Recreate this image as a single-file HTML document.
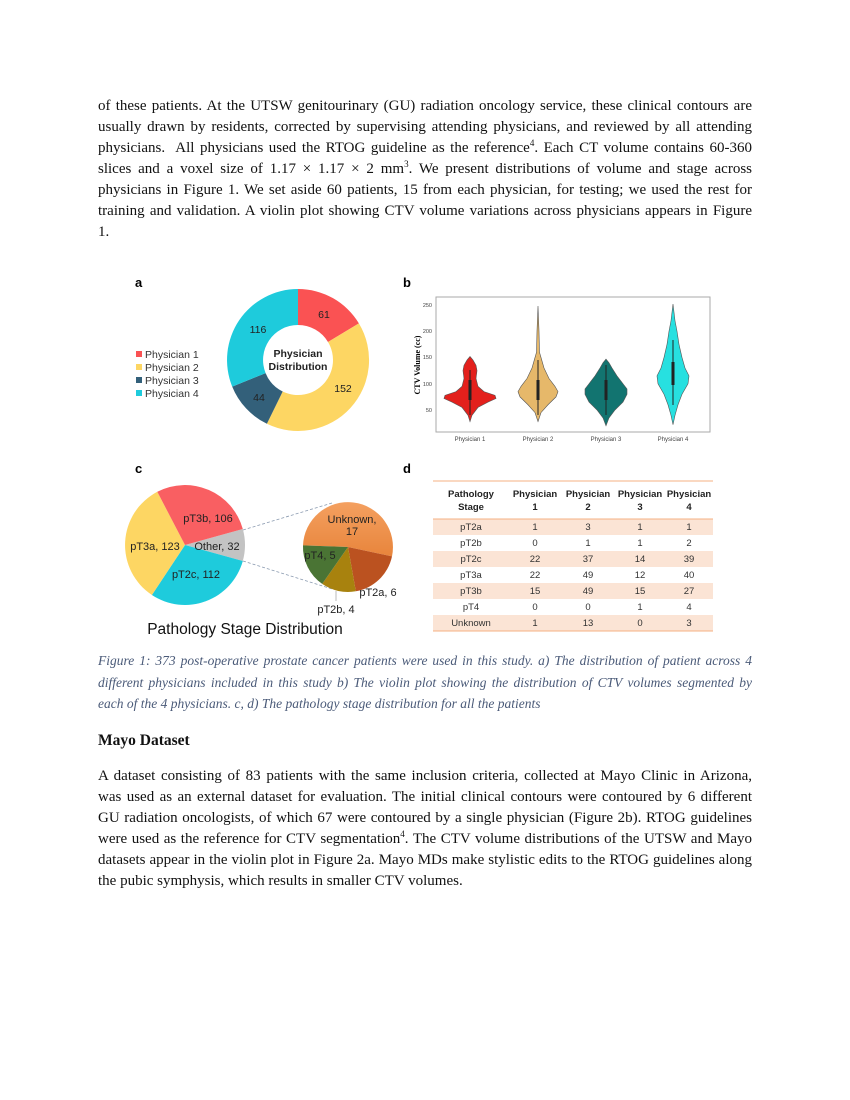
<!DOCTYPE html>
<html><head><meta charset="utf-8"><style>
body{margin:0;background:#fff;}
#p{position:relative;width:850px;height:1100px;overflow:hidden;font-family:"Liberation Serif",serif;color:#111;}
.l{position:absolute;left:98px;width:654px;font-size:15px;line-height:20px;height:20px;text-align:justify;text-align-last:justify;}
.n{text-align-last:left;}
.c{position:absolute;left:98px;width:654px;font-size:13.5px;line-height:18px;font-style:italic;color:#4a5a78;text-align:justify;text-align-last:justify;}
sup{font-size:9px;line-height:0;vertical-align:0;position:relative;top:-6px;}
svg text{font-family:"Liberation Sans",sans-serif;}
</style></head><body><div id="p">
<div class="l" style="top:96px">of these patients. At the UTSW genitourinary (GU) radiation oncology service, these clinical contours are</div>
<div class="l" style="top:117px">usually drawn by residents, corrected by supervising attending physicians, and reviewed by all attending</div>
<div class="l" style="top:138px">physicians.&nbsp; All physicians used the RTOG guideline as the reference<sup>4</sup>. Each CT volume contains 60-360</div>
<div class="l" style="top:159px">slices and a voxel size of 1.17 × 1.17 × 2 mm<sup>3</sup>. We present distributions of volume and stage across</div>
<div class="l" style="top:180px">physicians in Figure 1. We set aside 60 patients, 15 from each physician, for testing; we used the rest for</div>
<div class="l" style="top:201px">training and validation. A violin plot showing CTV volume variations across physicians appears in Figure</div>
<div class="l n" style="top:222px">1.</div>

<svg style="position:absolute;left:0;top:0" width="850" height="650">
<g font-weight="bold" font-size="13">
<text x="135" y="287">a</text><text x="403" y="287">b</text><text x="135" y="473">c</text><text x="403" y="473">d</text></g>
<path d="M298,289 A71,71 0 0 1 358.9,323.4 L328,342 A35,35 0 0 0 298,325 Z" fill="#fa5253"/>
<path d="M358.9,323.4 A71,71 0 0 1 266.9,423.8 L282.7,391.5 A35,35 0 0 0 328,342 Z" fill="#fdd663"/>
<path d="M266.9,423.8 A71,71 0 0 1 232.2,386.6 L265.6,373.1 A35,35 0 0 0 282.7,391.5 Z" fill="#33607a"/>
<path d="M232.2,386.6 A71,71 0 0 1 298,289 L298,325 A35,35 0 0 0 265.6,373.1 Z" fill="#1ecbdc"/>
<g font-size="10.5" fill="#222" text-anchor="middle">
<text x="324" y="318">61</text><text x="343" y="392">152</text><text x="259" y="401">44</text><text x="258" y="333">116</text>
<text x="298" y="357" font-weight="bold" font-size="10.5">Physician</text><text x="298" y="370" font-weight="bold" font-size="10.5">Distribution</text></g>
<g font-size="10.5" fill="#333">
<rect x="136" y="351" width="6" height="6" fill="#fa5253"/><text x="145" y="358">Physician 1</text>
<rect x="136" y="364" width="6" height="6" fill="#fdd663"/><text x="145" y="371">Physician 2</text>
<rect x="136" y="377" width="6" height="6" fill="#33607a"/><text x="145" y="384">Physician 3</text>
<rect x="136" y="390" width="6" height="6" fill="#1ecbdc"/><text x="145" y="397">Physician 4</text></g>
<rect x="436" y="297" width="274" height="135" fill="none" stroke="#aaa" stroke-width="1"/>
<g font-size="5.5" fill="#444" text-anchor="end">
<text x="432" y="307">250</text><text x="432" y="333">200</text><text x="432" y="359">150</text><text x="432" y="386">100</text><text x="432" y="412">50</text></g>
<text transform="translate(420,365) rotate(-90)" text-anchor="middle" font-size="8" font-weight="bold" style="font-family:'Liberation Serif',serif">CTV Volume (cc)</text>
<g font-size="6" fill="#444" text-anchor="middle">
<text x="470" y="441">Physician 1</text><text x="538" y="441">Physician 2</text><text x="606" y="441">Physician 3</text><text x="673" y="441">Physician 4</text></g>
<g stroke="#555" stroke-width="0.6">
<polygon fill="#e3201c" points="470,421.6 472,415.3 478,407.4 488,402.1 496,398.5 495,395.3 484,391.6 478,386.4 476,378.5 477,370.6 476,365.4 473,360.1 470,356.5 467,360.1 464,365.4 463,370.6 464,378.5 462,386.4 456,391.6 445,395.3 444,398.5 452,402.1 462,407.4 468,415.3"/>
<polygon fill="#e6b86a" points="538,421.6 541,412.6 548,404.75 556,396.9 558,391.6 555,386.4 549,378.5 544,368 541,357.5 539.5,352.3 539,331 538,306 537,331 536.5,352.3 535,357.5 532,368 527,378.5 521,386.4 518,391.6 520,396.9 528,404.75 535,412.6"/>
<polygon fill="#127470" points="606,425.8 609,417.9 615,410 623,402.1 627,394.3 627,389 623,383.75 617,375.9 612,368 609,362.75 606,359.1 603,362.75 600,368 595,375.9 589,383.75 585,389 585,394.3 589,402.1 597,410 603,417.9"/>
<polygon fill="#27e0e0" points="673,424.7 675,415.3 678,404.75 682,394.25 688,383.75 689,375.9 685,368 682,357.5 679,344.4 677,331.25 675,320.75 673,304 671,320.75 669,331.25 667,344.4 664,357.5 661,368 657,375.9 658,383.75 664,394.25 668,404.75 671,415.3"/></g>
<g stroke="#222"><line x1="470" y1="370" x2="470" y2="415" stroke-width="1"/><line x1="470" y1="380" x2="470" y2="400" stroke-width="3"/>
<line x1="538" y1="360" x2="538" y2="415" stroke-width="1"/><line x1="538" y1="380" x2="538" y2="400" stroke-width="3"/>
<line x1="606" y1="365" x2="606" y2="415" stroke-width="1"/><line x1="606" y1="380" x2="606" y2="400" stroke-width="3"/>
<line x1="673" y1="340" x2="673" y2="405" stroke-width="1"/><line x1="673" y1="362" x2="673" y2="385" stroke-width="3"/></g>
<path d="M185,545 L242.8,529 A60,60 0 0 1 242.8,561 Z" fill="#c3c3c3"/>
<path d="M185,545 L242.8,561 A60,60 0 0 1 151.9,595 Z" fill="#1ecbdc"/>
<path d="M185,545 L151.9,595 A60,60 0 0 1 157.3,491.8 Z" fill="#fdd663"/>
<path d="M185,545 L157.3,491.8 A60,60 0 0 1 242.8,529 Z" fill="#f95f62"/>
<g stroke="#8a9ab0" stroke-dasharray="3,2" stroke-width="0.8"><line x1="243" y1="530" x2="332" y2="503"/><line x1="243" y1="561" x2="332" y2="589"/></g>
<defs><linearGradient id="g1" x1="0" y1="0" x2="0" y2="1"><stop offset="0" stop-color="#f4a060"/><stop offset="1" stop-color="#e8853c"/></linearGradient></defs>
<path d="M348,547 L303,545.4 A45,45 0 1 1 392,556.4 Z" fill="url(#g1)"/>
<path d="M348,547 L392,556.4 A45,45 0 0 1 355.8,591.3 Z" fill="#bb5220"/>
<path d="M348,547 L355.8,591.3 A45,45 0 0 1 322.2,583.9 Z" fill="#a8820e"/>
<path d="M348,547 L322.2,583.9 A45,45 0 0 1 303,545.4 Z" fill="#4a7434"/>
<line x1="336" y1="591" x2="336" y2="601" stroke="#bbb"/>
<g font-size="11" fill="#222" text-anchor="middle">
<text x="208" y="522">pT3b, 106</text><text x="155" y="550">pT3a, 123</text><text x="217" y="550">Other, 32</text><text x="196" y="578">pT2c, 112</text>
<text x="352" y="523">Unknown,</text><text x="352" y="535">17</text><text x="320" y="559">pT4, 5</text><text x="378" y="596">pT2a, 6</text><text x="336" y="613">pT2b, 4</text></g>
<text x="245" y="634" font-size="15.5" text-anchor="middle" fill="#111">Pathology Stage Distribution</text>
<g fill="#fbe4d5"><rect x="433" y="519" width="280" height="16"/><rect x="433" y="551" width="280" height="16"/><rect x="433" y="583" width="280" height="16"/><rect x="433" y="615" width="280" height="16"/></g>
<g stroke="#f4b183" stroke-width="1"><line x1="433" y1="481" x2="713" y2="481"/><line x1="433" y1="519" x2="713" y2="519"/><line x1="433" y1="631" x2="713" y2="631"/></g>
<g font-size="9.5" fill="#222" text-anchor="middle" font-weight="bold">
<text x="471" y="497">Pathology</text><text x="471" y="510">Stage</text>
<text x="535" y="497">Physician</text><text x="535" y="510">1</text>
<text x="588" y="497">Physician</text><text x="588" y="510">2</text>
<text x="640" y="497">Physician</text><text x="640" y="510">3</text>
<text x="689" y="497">Physician</text><text x="689" y="510">4</text></g>
<g font-size="9.5" fill="#333" text-anchor="middle">
<text x="471" y="530">pT2a</text><text x="535" y="530">1</text><text x="588" y="530">3</text><text x="640" y="530">1</text><text x="689" y="530">1</text>
<text x="471" y="546">pT2b</text><text x="535" y="546">0</text><text x="588" y="546">1</text><text x="640" y="546">1</text><text x="689" y="546">2</text>
<text x="471" y="562">pT2c</text><text x="535" y="562">22</text><text x="588" y="562">37</text><text x="640" y="562">14</text><text x="689" y="562">39</text>
<text x="471" y="578">pT3a</text><text x="535" y="578">22</text><text x="588" y="578">49</text><text x="640" y="578">12</text><text x="689" y="578">40</text>
<text x="471" y="594">pT3b</text><text x="535" y="594">15</text><text x="588" y="594">49</text><text x="640" y="594">15</text><text x="689" y="594">27</text>
<text x="471" y="610">pT4</text><text x="535" y="610">0</text><text x="588" y="610">0</text><text x="640" y="610">1</text><text x="689" y="610">4</text>
<text x="471" y="626">Unknown</text><text x="535" y="626">1</text><text x="588" y="626">13</text><text x="640" y="626">0</text><text x="689" y="626">3</text></g>
</svg>

<div class="c" style="top:652px">Figure 1: 373 post-operative prostate cancer patients were used in this study. a) The distribution of patient across 4</div>
<div class="c" style="top:674px">different physicians included in this study b) The violin plot showing the distribution of CTV volumes segmented by</div>
<div class="c" style="top:695px;text-align-last:left">each of the 4 physicians. c, d) The pathology stage distribution for all the patients</div>
<div class="l n" style="top:731px;font-weight:bold;font-size:15.5px">Mayo Dataset</div>
<div class="l" style="top:766px">A dataset consisting of 83 patients with the same inclusion criteria, collected at Mayo Clinic in Arizona,</div>
<div class="l" style="top:787px">was used as an external dataset for evaluation. The initial clinical contours were contoured by 6 different</div>
<div class="l" style="top:808px">GU radiation oncologists, of which 67 were contoured by a single physician (Figure 2b). RTOG guidelines</div>
<div class="l" style="top:829px">were used as the reference for CTV segmentation<sup>4</sup>. The CTV volume distributions of the UTSW and Mayo</div>
<div class="l" style="top:850px">datasets appear in the violin plot in Figure 2a. Mayo MDs make stylistic edits to the RTOG guidelines along</div>
<div class="l n" style="top:871px">the pubic symphysis, which results in smaller CTV volumes.</div>
</div></body></html>
